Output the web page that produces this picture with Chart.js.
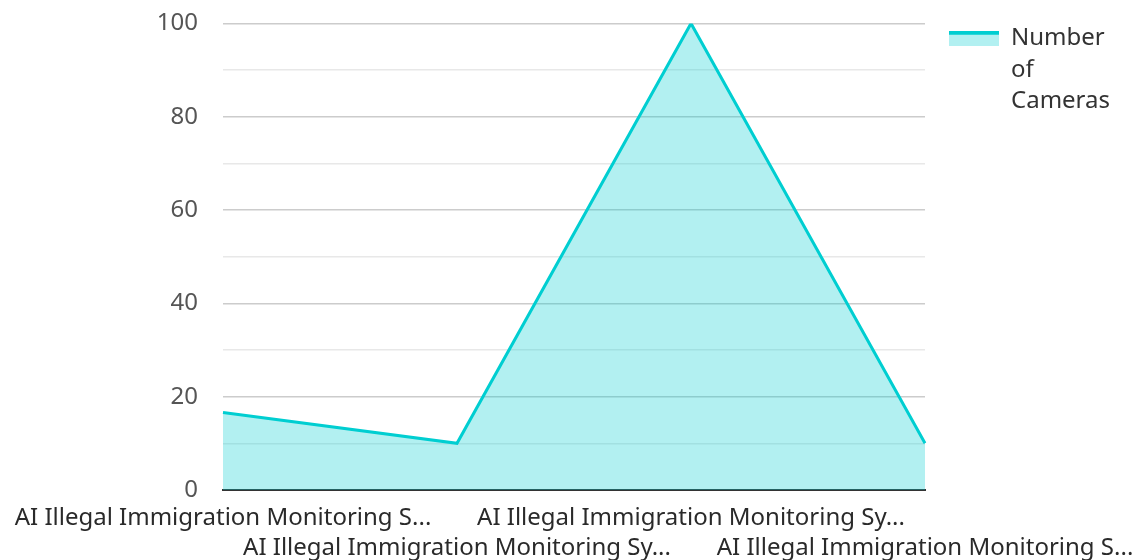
<!DOCTYPE html>
<html>
<head>
<meta charset="utf-8">
<script src="https://cdn.jsdelivr.net/npm/chart.js@4/dist/chart.umd.min.js"></script>
<style>
html,body{margin:0;padding:0;background:#fff;}
#wrap{width:1144px;height:560px;position:relative;}
</style>
</head>
<body>
<div id="wrap"><canvas id="c" width="1144" height="560"></canvas></div>
<script>
const categories = [
  "AI Illegal Immigration Monitoring S...",
  "AI Illegal Immigration Monitoring Sy...",
  "AI Illegal Immigration Monitoring Sy...",
  "AI Illegal Immigration Monitoring S..."
];
const cameraCounts = [16.6, 10, 100, 10];
const seriesName = "Number of Cameras";
const yTickStep = 10;
const yLabelStep = 20;
const yMax = 100;

const lineColor = '#00ced1';
const fillColor = 'rgba(0,206,209,0.3)';
const FONT = '"Noto Sans", sans-serif';

// legend swatch: thick line over light fill (with a transparent left margin)
const SW_MARGIN = 14;
const sw = document.createElement('canvas');
sw.width = 50 + SW_MARGIN; sw.height = 15;
const sctx = sw.getContext('2d');
sctx.fillStyle = fillColor; sctx.fillRect(SW_MARGIN, 0, 50, 15);
sctx.fillStyle = lineColor; sctx.fillRect(SW_MARGIN, 0, 50, 4);

Chart.defaults.font.family = FONT;

new Chart(document.getElementById('c'), {
  type: 'line',
  data: {
    labels: categories,
    datasets: [{
      label: seriesName,
      data: cameraCounts,
      borderColor: lineColor,
      backgroundColor: fillColor,
      borderWidth: 3,
      fill: 'origin',
      tension: 0,
      pointRadius: 0,
      pointHoverRadius: 0
    }]
  },
  options: {
    responsive: false,
    animation: false,
    layout: { padding: { top: 8, right: 10, left: 16, bottom: -16 } },
    plugins: {
      tooltip: { enabled: false },
      legend: {
        position: 'right',
        align: 'start',
        title: { display: true, text: ' ', font: { size: 1 }, padding: { top: 7, bottom: 0 } },
        labels: {
          usePointStyle: true,
          pointStyle: sw,
          pointStyleWidth: 50 + SW_MARGIN,
          boxHeight: 15,
          padding: 10,
          color: '#333',
          font: { family: FONT, size: 24, lineHeight: 1.32 },
          generateLabels: (chart) => chart.data.datasets.map((ds, i) => ({
            text: ds.label.split(' '),
            pointStyle: sw,
            fillStyle: fillColor,
            strokeStyle: lineColor,
            lineWidth: 0,
            hidden: false,
            datasetIndex: i,
            fontColor: '#333'
          }))
        }
      }
    },
    scales: {
      x: {
        offset: false,
        afterFit: (s) => { s.paddingRight = 219; },
        grid: { display: false, drawTicks: false },
        border: { display: true, color: '#333', width: 2 },
        ticks: {
          autoSkip: false,
          maxRotation: 0,
          minRotation: 0,
          padding: 13,
          color: '#2a2a2a',
          font: { family: FONT, size: 24, lineHeight: 1.25 },
          callback: function(v, i) {
            const t = this.getLabelForValue(v);
            return i % 2 === 0 ? [t, ''] : ['', t];
          }
        }
      },
      y: {
        min: 0,
        max: yMax,
        border: { display: false },
        afterFit: (s) => { s.width = 207; },
        grid: {
          drawTicks: true,
          tickLength: 16,
          tickColor: 'rgba(0,0,0,0)',
          lineWidth: 1.5,
          color: (ctx) => (ctx.tick && ctx.tick.value % yLabelStep === 0) ? '#cccccc' : '#e8e8e8'
        },
        ticks: {
          stepSize: yTickStep,
          padding: 9,
          color: '#555',
          font: { family: FONT, size: 24 },
          callback: (v) => (v % yLabelStep === 0 ? String(v) : '')
        }
      }
    }
  }
});
</script>
</body>
</html>
